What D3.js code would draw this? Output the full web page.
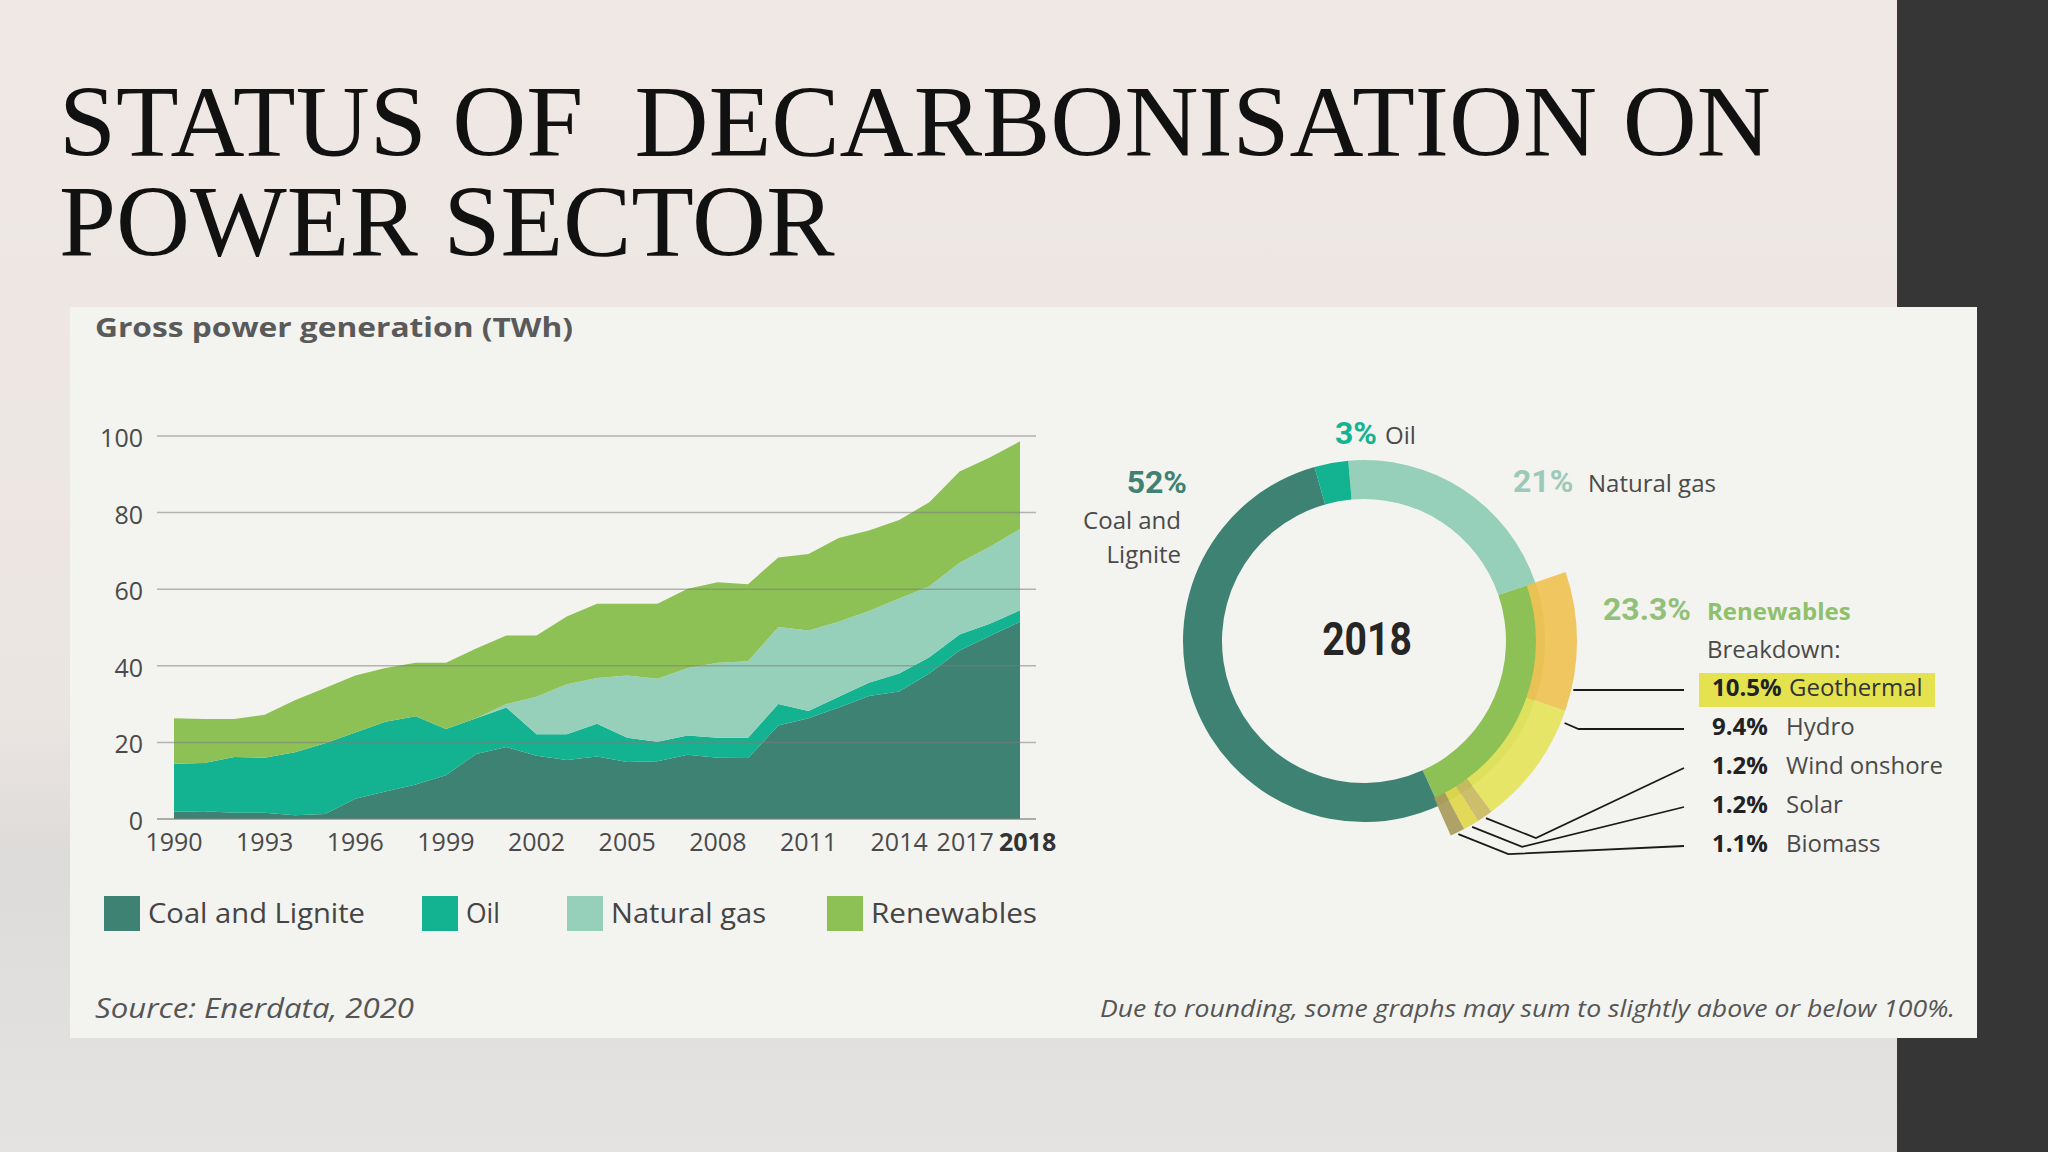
<!DOCTYPE html>
<html>
<head>
<meta charset="utf-8">
<script src="https://cdn.jsdelivr.net/npm/d3@7"></script>
<style>
html, body { margin: 0; padding: 0; overflow: hidden; background: #ece6e3; }
svg { display: block; }
text { white-space: pre; }
</style>
</head>
<body>
<svg id="slide" width="2048" height="1152"></svg>
<script>
// ---- data ----
const years = [1990, 1991, 1992, 1993, 1994, 1995, 1996, 1997, 1998, 1999,
               2000, 2001, 2002, 2003, 2004, 2005, 2006, 2007, 2008, 2009,
               2010, 2011, 2012, 2013, 2014, 2015, 2016, 2017, 2018];
const coal = [1.9, 2.0, 1.6, 1.6, 1.0, 1.3, 5.3, 7.2, 9.0, 11.4,
              17.0, 18.8, 16.5, 15.4, 16.3, 14.9, 15.1, 16.8, 16.0, 15.9,
              24.4, 26.3, 29.1, 32.1, 33.3, 38.0, 44.0, 47.8, 51.5];
const oil = [12.5, 12.6, 14.6, 14.4, 16.4, 18.5, 17.3, 18.2, 17.8, 12.1,
             9.3, 10.3, 5.6, 6.7, 8.6, 6.3, 5.1, 5.0, 5.2, 5.3,
             5.6, 1.9, 2.8, 3.5, 4.7, 4.2, 4.2, 3.2, 3.0];
const gas = [0, 0, 0, 0, 0, 0, 0, 0, 0, 0,
             0, 0.9, 9.8, 13.1, 11.9, 16.3, 16.4, 17.6, 19.6, 20.0,
             20.1, 21.0, 19.6, 18.7, 19.6, 18.6, 18.7, 20.1, 21.2];
const renewables = [11.9, 11.5, 9.9, 11.2, 13.6, 14.4, 14.9, 14.0, 14.0, 17.3,
                    18.2, 17.9, 16.0, 17.7, 19.4, 18.7, 19.6, 20.7, 21.0, 20.1,
                    18.2, 20.0, 21.9, 21.0, 20.5, 21.9, 23.8, 23.3, 22.9];

const seriesKeys = ["coal", "oil", "gas", "renewables"];
const seriesNames = ["Coal and Lignite", "Oil", "Natural gas", "Renewables"];
const seriesColors = ["#3d8272", "#13b391", "#97d0ba", "#8dc155"];

const yTicks = [0, 20, 40, 60, 80, 100];
const xTickYears = [1990, 1993, 1996, 1999, 2002, 2005, 2008, 2011, 2014, 2017, 2018];

// 2018 shares, clockwise from the top
const shareKeys = ["gas", "renewables", "coal", "oil"];
const shares2018 = [21, 23.3, 52, 3];
const shareLabels = ["21%", "23.3%", "52%", "3%"];

const breakdownNames = ["Geothermal", "Hydro", "Wind onshore", "Solar", "Biomass"];
const breakdownShares = [10.5, 9.4, 1.2, 1.2, 1.1];
const breakdownColors = ["#efc255", "#e4e35e", "#c9b962", "#e0d64c", "#a99b5c"];

const titleLines = ["STATUS OF  DECARBONISATION ON", "POWER SECTOR"];

// ---- page ----
const svg = d3.select("#slide");
const colorOf = d3.scaleOrdinal().domain(seriesKeys).range(seriesColors);

const defs = svg.append("defs");
const bg = defs.append("linearGradient").attr("id", "bg").attr("x1", 0).attr("y1", 0).attr("x2", 0).attr("y2", 1);
bg.append("stop").attr("offset", "0").attr("stop-color", "#efe8e5");
bg.append("stop").attr("offset", "0.62").attr("stop-color", "#ebe5e2");
bg.append("stop").attr("offset", "0.74").attr("stop-color", "#dddbd9");
bg.append("stop").attr("offset", "1").attr("stop-color", "#e4e3e1");

svg.append("rect").attr("width", 2048).attr("height", 1152).attr("fill", "url(#bg)");
svg.append("rect").attr("x", 1897).attr("y", 0).attr("width", 151).attr("height", 1152).attr("fill", "#363636");

// title: one text block, two lines
svg.append("text")
  .attr("font-family", "'Liberation Serif', 'Times New Roman', serif")
  .attr("font-size", 102.5)
  .attr("fill", "#111")
  .selectAll("tspan")
  .data(titleLines)
  .enter()
  .append("tspan")
  .attr("x", 59)
  .attr("y", (d, i) => 156 + i * 100)
  .text(d => d);

// chart panel
svg.append("rect").attr("x", 70).attr("y", 307).attr("width", 1907).attr("height", 731).attr("fill", "#f3f3ef");

const panel = svg.append("g").attr("font-family", "'Open Sans', sans-serif");

function fit(sel, w) {
  return sel.attr("textLength", w).attr("lengthAdjust", "spacingAndGlyphs");
}

fit(panel.append("text").attr("x", 95).attr("y", 337)
  .attr("font-size", 26).attr("font-weight", 700).attr("fill", "#5a5a5a")
  .text("Gross power generation (TWh)"), 478);

// ---- stacked area ----
const x = d3.scaleLinear().domain([1990, 2018]).range([174, 1020]);
const y = d3.scaleLinear().domain([0, 100]).range([819, 436]);

const table = years.map((yr, i) => ({
  year: yr, coal: coal[i], oil: oil[i], gas: gas[i], renewables: renewables[i]
}));
const stacked = d3.stack().keys(seriesKeys)(table);
const area = d3.area()
  .x(d => x(d.data.year))
  .y0(d => y(d[0]))
  .y1(d => y(d[1]));

panel.append("g").selectAll("path")
  .data(stacked)
  .enter()
  .append("path")
  .attr("d", area)
  .attr("fill", d => colorOf(d.key));

// grid lines sit on top of the areas
panel.append("g").selectAll("line")
  .data(yTicks)
  .enter()
  .append("line")
  .attr("x1", 157).attr("x2", 1036)
  .attr("y1", d => y(d)).attr("y2", d => y(d))
  .attr("stroke", "#7d7d7d")
  .attr("stroke-opacity", d => d === 0 ? 0.8 : 0.55)
  .attr("stroke-width", 1.5);

panel.append("g").selectAll("text")
  .data(yTicks)
  .enter()
  .append("text")
  .attr("x", 143)
  .attr("y", d => y(d) + 11)
  .attr("text-anchor", "end")
  .attr("font-size", 25)
  .attr("fill", "#4a4a4a")
  .text(d => d);

panel.append("g").selectAll("text")
  .data(xTickYears)
  .enter()
  .append("text")
  .attr("x", d => d === 2017 ? x(d) + 4 : d === 2018 ? x(d) - 21 : x(d))
  .attr("y", 851)
  .attr("text-anchor", d => d === 2017 ? "end" : d === 2018 ? "start" : "middle")
  .attr("font-size", 25)
  .attr("font-weight", d => d === 2018 ? 700 : 400)
  .attr("fill", d => d === 2018 ? "#333" : "#4a4a4a")
  .text(d => d);

// legend
const legendX = [104, 422, 567, 827];
const legendW = [217, 34, 155, 166];
const legend = panel.append("g").selectAll("g")
  .data(seriesNames)
  .enter()
  .append("g")
  .attr("transform", (d, i) => "translate(" + legendX[i] + ",896)");
legend.append("rect").attr("width", 36).attr("height", 35).attr("fill", (d, i) => seriesColors[i]);
legend.each(function(d, i) {
  fit(d3.select(this).append("text").attr("x", 44).attr("y", 27)
    .attr("font-size", 28).attr("fill", "#444").text(d), legendW[i]);
});

// footnotes
fit(panel.append("text").attr("x", 95).attr("y", 1018)
  .attr("font-size", 27).attr("font-style", "italic").attr("fill", "#555")
  .text("Source: Enerdata, 2020"), 319);
fit(panel.append("text").attr("x", 1100).attr("y", 1017)
  .attr("font-size", 24).attr("font-style", "italic").attr("fill", "#555")
  .text("Due to rounding, some graphs may sum to slightly above or below 100%."), 855);

// ---- 2018 donut ----
const cx = 1364, cy = 641;
const ringInner = 142, ringOuter = 181;
const bandInner = 172, bandOuter = 213;
const startA = -5 * Math.PI / 180;

const pie = d3.pie().sort(null).value(d => d).startAngle(startA).endAngle(startA + 2 * Math.PI);
const slices = pie(shares2018);
const ringArc = d3.arc().innerRadius(ringInner).outerRadius(ringOuter);

const donut = panel.append("g").attr("transform", "translate(" + cx + "," + cy + ")");
donut.selectAll("path.ring")
  .data(slices)
  .enter()
  .append("path")
  .attr("class", "ring")
  .attr("d", ringArc)
  .attr("fill", (d, i) => colorOf(shareKeys[i]));

// renewables breakdown band, same angle scale as the ring
const angleOf = d3.scaleLinear().domain([0, d3.sum(shares2018)]).range([0, 2 * Math.PI]);
const renStart = slices[1].startAngle;
const cum = d3.cumsum(breakdownShares);
const bandSlices = breakdownShares.map((v, i) => ({
  startAngle: renStart + angleOf(cum[i] - v),
  endAngle: renStart + angleOf(cum[i])
}));
const bandArc = d3.arc().innerRadius(bandInner).outerRadius(bandOuter);
donut.selectAll("path.band")
  .data(bandSlices)
  .enter()
  .append("path")
  .attr("class", "band")
  .attr("d", bandArc)
  .attr("fill", (d, i) => breakdownColors[i])
  .attr("fill-opacity", 0.93);

donut.append("text")
  .attr("transform", "translate(3,14) scale(0.85,1)")
  .attr("text-anchor", "middle")
  .attr("font-family", "Roboto, sans-serif")
  .attr("font-weight", 700)
  .attr("font-size", 46)
  .attr("fill", "#262626")
  .text("2018");

// share labels
const pctFont = "Roboto, sans-serif";
function pct(xp, yp, txt, col, anchor) {
  return panel.append("text").attr("x", xp).attr("y", yp)
    .attr("text-anchor", anchor || "start")
    .attr("font-family", pctFont).attr("font-weight", 700).attr("font-size", 32)
    .attr("fill", col).text(txt);
}
function label(xp, yp, txt, anchor) {
  return panel.append("text").attr("x", xp).attr("y", yp)
    .attr("text-anchor", anchor || "start")
    .attr("font-size", 24).attr("fill", "#4a4a4a").text(txt);
}
pct(1187, 493, shareLabels[2], colorOf("coal"), "end");
label(1181, 529, "Coal and", "end");
label(1181, 563, "Lignite", "end");
pct(1335, 444, shareLabels[3], colorOf("oil"));
label(1385, 444, "Oil");
pct(1513, 492, shareLabels[0], "#9cc9b8");
label(1588, 492, "Natural gas");
pct(1603, 620, shareLabels[1], "#92c078");
panel.append("text").attr("x", 1707).attr("y", 620)
  .attr("font-size", 24).attr("font-weight", 700).attr("fill", "#8fc06a").text("Renewables");
label(1707, 658, "Breakdown:");

// breakdown list
const rowY = breakdownNames.map((d, i) => 696 + i * 39);
panel.append("rect").attr("x", 1699).attr("y", 673).attr("width", 236).attr("height", 34).attr("fill", "#e4e24f");
breakdownNames.forEach((name, i) => {
  panel.append("text").attr("x", 1712).attr("y", rowY[i])
    .attr("font-size", 24).attr("font-weight", 700).attr("fill", "#222")
    .text(breakdownShares[i] + "%");
  panel.append("text").attr("x", i === 0 ? 1789 : 1786).attr("y", rowY[i])
    .attr("font-size", 24).attr("fill", i === 0 ? "#333" : "#4a4a4a")
    .text(name);
});

// leader lines
const leaders = panel.append("g").attr("fill", "none").attr("stroke", "#1a1a1a").attr("stroke-width", 1.8);
const lineEnd = 1684;
bandSlices.forEach((s, i) => {
  const ly = rowY[i] - 6;
  let pts;
  if (i === 0) {
    const dy = ly - cy;
    const sx = cx + Math.sqrt(bandOuter * bandOuter - dy * dy);
    pts = [[sx + 2, ly], [lineEnd, ly]];
  } else if (i === 1) {
    const dy = ly - 6 - cy;
    const sx = cx + Math.sqrt(bandOuter * bandOuter - dy * dy);
    pts = [[sx + 4, ly - 6], [sx + 18, ly], [lineEnd, ly]];
  } else {
    const mid = (s.startAngle + s.endAngle) / 2;
    const r = bandOuter + 2;
    const px = cx + r * Math.sin(mid), py = cy - r * Math.cos(mid);
    pts = [[px, py], [px + 50, py + 20], [lineEnd, ly]];
  }
  leaders.append("path").attr("d", d3.line()(pts));
});
</script>
</body>
</html>
